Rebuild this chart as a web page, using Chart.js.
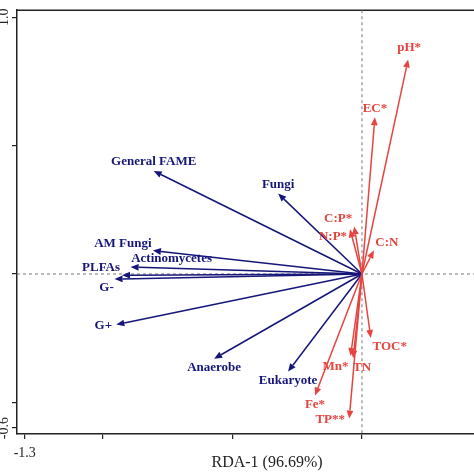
<!DOCTYPE html>
<html><head><meta charset="utf-8">
<script src="https://cdn.jsdelivr.net/npm/chart.js@4"></script>
<style>html,body{margin:0;padding:0;background:#fff}#w{width:474px;height:474px}</style>
</head><body><div id="w"><canvas id="c"></canvas></div>
<script>
// Response variables (blue) and explanatory variables (red)
const speciesNames = ["General FAME","Fungi","AM Fungi","Actinomycetes","PLFAs","G-","G+","Anaerobe","Eukaryote"];
const speciesX = [-0.803,-0.323,-0.806,-0.892,-0.925,-0.954,-0.947,-0.570,-0.285];
const speciesY = [0.401,0.313,0.091,0.027,-0.005,-0.020,-0.197,-0.330,-0.380];
const envNames = ["pH*","EC*","C:P*","N:P*","C:N","TOC*","TN","Mn*","Fe*","TP**"];
const envX = [0.178,0.050,-0.030,-0.046,0.046,0.034,-0.034,-0.044,-0.181,-0.049];
const envY = [0.835,0.610,0.185,0.174,0.092,-0.249,-0.328,-0.319,-0.473,-0.563];
const xTicks = [-1.3,-1.0,-0.5,0];
const yTicks = [-0.6,-0.5,0,0.5,1.0];
const xLabelled = [-1.3];
const yLabelled = [-0.6,1.0];

// label offsets (px) from arrow tips
const speciesOff = [[0,-9],[0,-9],[-30,-7],[41,-8],[-21,-8],[-8,9],[-13,1],[0,9],[0,9]];
const envOff = [[1,-12],[0,-9],[-16,-8],[-17,7],[13,-8],[19,9],[9,9],[-15,11],[0,9],[-19,1]];
const BLUE = "#16167a", RED = "#e6443f";

function arrow(ctx,x0,y0,x1,y1,col){
  ctx.strokeStyle=col;ctx.fillStyle=col;ctx.lineWidth=1.5;
  const a=Math.atan2(y1-y0,x1-x0), L=8, W=3.4;
  const bx=x1-L*Math.cos(a), by=y1-L*Math.sin(a);
  ctx.beginPath();ctx.moveTo(x0,y0);ctx.lineTo(bx,by);ctx.stroke();
  ctx.beginPath();ctx.moveTo(x1,y1);
  ctx.lineTo(bx+W*Math.sin(a),by-W*Math.cos(a));
  ctx.lineTo(bx-W*Math.sin(a),by+W*Math.cos(a));ctx.closePath();ctx.fill();
}
const drawPlugin={id:'rda',
  afterDatasetsDraw(chart){
    const ctx=chart.ctx, xs=chart.scales.x, ys=chart.scales.y, ca=chart.chartArea;
    ctx.save();
    ctx.strokeStyle="#222";ctx.lineWidth=1.5;
    ctx.beginPath();ctx.moveTo(ca.left,ca.top);ctx.lineTo(ca.right,ca.top);ctx.stroke();
    ctx.strokeStyle="#777";ctx.lineWidth=1;ctx.setLineDash([3,3]);
    const ox=xs.getPixelForValue(0), oy=ys.getPixelForValue(0);
    ctx.beginPath();ctx.moveTo(ca.left,oy);ctx.lineTo(ca.right,oy);ctx.moveTo(ox,ca.top);ctx.lineTo(ox,ca.bottom);ctx.stroke();
    ctx.setLineDash([]);
    ctx.font="bold 13px 'Liberation Serif'";ctx.textAlign="center";ctx.textBaseline="middle";
    speciesNames.forEach((n,i)=>{
      arrow(ctx,ox,oy,xs.getPixelForValue(speciesX[i]),ys.getPixelForValue(speciesY[i]),BLUE);
    });
    envNames.forEach((n,i)=>{
      arrow(ctx,ox,oy,xs.getPixelForValue(envX[i]),ys.getPixelForValue(envY[i]),RED);
    });
    speciesNames.forEach((n,i)=>{
      const px=xs.getPixelForValue(speciesX[i]), py=ys.getPixelForValue(speciesY[i]);
      ctx.fillStyle=BLUE;ctx.fillText(n,px+speciesOff[i][0],py+speciesOff[i][1]);
    });
    envNames.forEach((n,i)=>{
      const px=xs.getPixelForValue(envX[i]), py=ys.getPixelForValue(envY[i]);
      ctx.fillStyle=RED;ctx.fillText(n,px+envOff[i][0],py+envOff[i][1]);
    });
    ctx.fillStyle="#222";ctx.font="14px 'Liberation Serif'";
    yLabelled.forEach(v=>{
      const py=ys.getPixelForValue(v);
      ctx.save();ctx.translate(4,py);ctx.rotate(-Math.PI/2);ctx.fillText(v.toFixed(1),0,0);ctx.restore();
    });
    ctx.font="16px 'Liberation Serif'";ctx.fillStyle="#222";
    ctx.fillText("RDA-1 (96.69%)",267,463);
    ctx.restore();
  }};
new Chart(document.getElementById('c'),{
  type:'scatter',
  data:{datasets:[{data:[],showLine:false}]},
  options:{responsive:true,maintainAspectRatio:false,animation:false,
    layout:{padding:{top:5,left:0,right:0,bottom:0}},
    plugins:{legend:{display:false},tooltip:{enabled:false}},
    scales:{
      x:{type:'linear',min:-1.33,max:0.432,
        afterBuildTicks:s=>{s.ticks=xTicks.map(v=>({value:v}));},
        afterFit:s=>{s.height=40;},
        border:{color:'#222',width:1.5},
        grid:{drawOnChartArea:false,tickLength:5,color:'#222',lineWidth:1.2},
        ticks:{maxRotation:0,color:'#222',font:{family:'Liberation Serif',size:14},padding:6,
          callback:v=>xLabelled.includes(v)?v.toFixed(1):''}},
      y:{type:'linear',min:-0.623,max:1.027,
        afterBuildTicks:s=>{s.ticks=yTicks.map(v=>({value:v}));},
        afterFit:s=>{s.width=17;},
        border:{color:'#222',width:1.5},
        grid:{drawOnChartArea:false,tickLength:5,color:'#222',lineWidth:1.2},
        ticks:{display:true,callback:()=>''}}
    }},
  plugins:[drawPlugin]
});
</script></body></html>
